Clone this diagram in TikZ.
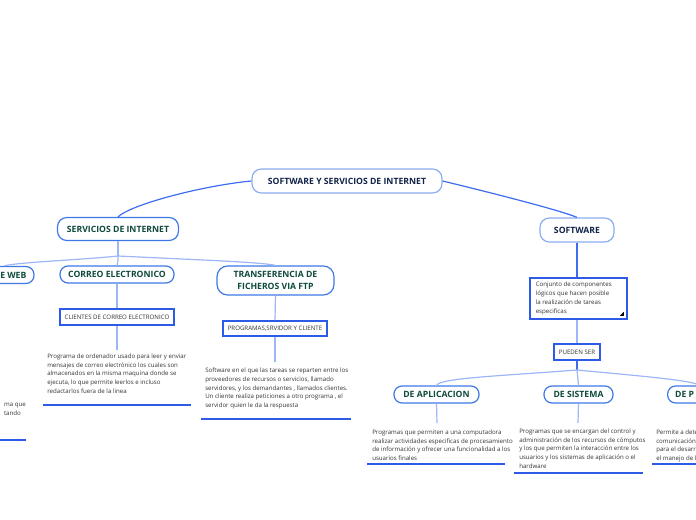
\documentclass[tikz,border=0pt]{standalone}
\usepackage{fontspec}
\setmainfont{Open Sans}
\begin{document}
\begin{tikzpicture}[x=0.75pt,y=-0.75pt,
  conn/.style={draw=linkblue,line width=0.9pt},
  lconn/.style={draw=lightlink,line width=0.9pt},
  topic/.style={draw=topicblue,line width=0.9pt,rounded corners=7pt,fill=white,inner sep=0pt,align=center,font=\bfseries\fontsize{6.5}{9}\selectfont,text=darkgreen},
  sbox/.style={draw=boxblue,line width=1.4pt,fill=white,inner sep=0pt,align=left,font=\fontsize{4.6}{6.5}\selectfont,text=textgray},
  desc/.style={anchor=north west,align=left,inner sep=0pt,font=\fontsize{4.6}{6.4}\selectfont,text=textgray},
  uline/.style={draw=boxblue,line width=1.1pt}]
\definecolor{linkblue}{HTML}{3D6CF0}
\definecolor{lightlink}{HTML}{9DB6F7}
\definecolor{topicblue}{HTML}{3E78E6}
\definecolor{boxblue}{HTML}{2E5AE8}
\definecolor{darkgreen}{HTML}{0F4A3C}
\definecolor{navy}{HTML}{12234A}
\definecolor{textgray}{HTML}{333333}
\useasboundingbox (0,0) rectangle (696,520);
% topics
\node[topic,minimum width=142.5pt,minimum height=18pt,text=navy,draw=topicblue!60] (root) at (347,181) {SOFTWARE Y SERVICIOS DE INTERNET};
\node[topic,minimum width=90.75pt,minimum height=17.25pt] (serv) at (118,229) {SERVICIOS DE INTERNET};
\node[topic,minimum width=55.5pt,minimum height=18pt,text=navy,draw=topicblue!60] (soft) at (577,230) {SOFTWARE};
\node[topic,minimum width=45pt,minimum height=12.75pt,rounded corners=6pt] (web) at (4,275) {\hspace*{14pt}E WEB};
\node[topic,minimum width=85.5pt,minimum height=12.75pt,rounded corners=6pt] (correo) at (117,274.5) {CORREO ELECTRONICO};
\node[topic,minimum width=87.75pt,minimum height=21.75pt,rounded corners=8pt] (ftp) at (275.5,280.5) {TRANSFERENCIA DE\\FICHEROS VIA FTP};
\node[topic,minimum width=63.75pt,minimum height=12.75pt,rounded corners=6pt] (apl) at (436.5,394.5) {DE APLICACION};
\node[topic,minimum width=51.75pt,minimum height=12.75pt,rounded corners=6pt] (sis) at (578.5,394.5) {DE SISTEMA};
\node[topic,minimum width=49.5pt,minimum height=12.75pt,rounded corners=6pt,anchor=west] (prog) at (667,394.5) {\hspace*{2pt}DE P\hspace*{26pt}};
% connectors
\draw[conn] (root.west) .. controls (200,186) and (130,205) .. (serv.north);
\draw[conn] (root.east) .. controls (480,190) and (560,210) .. (soft.north);
\coordinate (sj) at (118,256);
\draw[lconn] (serv.south) -- (sj);
\draw[lconn] (sj) .. controls (80,260) and (20,262) .. (web.north);
\draw[lconn] (sj) .. controls (118,262) .. (correo.north);
\draw[lconn] (sj) .. controls (200,260) and (260,262) .. (ftp.north);
% boxes
\node[sbox,minimum width=85.5pt,minimum height=12pt,align=center] (cli) at (117,317) {CLIENTES DE CORREO ELECTRONICO};
\node[sbox,minimum width=78pt,minimum height=11.25pt,align=center] (psc) at (275,328.5) {PROGRAMAS,SRVIDOR Y CLIENTE};
\coordinate (c1) at (117,350);
\coordinate (c2) at (275,362);
\draw[lconn] (correo.south) -- (cli.north);
\draw[lconn] (cli.south) -- (c1);
\draw[lconn] (ftp.south) -- (psc.north);
\draw[lconn] (psc.south) -- (c2);
\node[sbox,minimum width=72.75pt,minimum height=30.75pt,anchor=north west] (cdesc) at (529,277) {\hspace*{4pt}\parbox{64pt}{\fontsize{4.6}{6.8}\selectfont Conjunto de componentes\\lógicos que hacen posible\\la realización de tareas\\especificas}\hspace*{4pt}};
\fill[black] ([shift={(-4,-4)}]cdesc.south east) -- ++(-4,0) -- ++(4,-4) -- cycle;
\draw[conn] (soft.south) -- (cdesc.north -| soft.south);
\node[sbox,minimum width=34.5pt,minimum height=12pt,align=center] (pu) at (577,352) {PUEDEN SER};
\draw[lconn] (cdesc.south -| pu.north) -- (pu.north);
\coordinate (pj) at (577,370);
\draw[conn] (pu.south) -- (pj);
\draw[lconn] (pj) .. controls (500,376) and (440,378) .. (apl.north);
\draw[lconn] (pj) .. controls (578,378) .. (sis.north);
\draw[lconn] (pj) .. controls (640,376) and (690,380) .. (prog.north);
\coordinate (a1) at (437,423);
\coordinate (s1) at (578,423);
\draw[lconn] (apl.south) -- (a1);
\draw[lconn] (sis.south) -- (s1);
% descriptions
\node[desc] (t1) at (47,354) {Programa de ordenador usado para leer y enviar\\mensajes de correo electrónico los cuales son\\almacenados en la misma maquina donde se\\ejecuta, lo que permite leerlos e incluso\\redactarlos fuera de la linea};
\coordinate (u1a) at (43,405); \coordinate (u1b) at (191,405);
\draw[uline] (u1a) -- (u1b);
\node[desc] (t2) at (205,368) {Software en el que las tareas se reparten entre los\\proveedores de recursos o servicios, llamado\\servidores, y los demandantes , llamados clientes.\\Un cliente realiza peticiones a otro programa , el\\servidor quien le da la respuesta};
\coordinate (u2a) at (201,419); \coordinate (u2b) at (351,419);
\draw[uline] (u2a) -- (u2b);
\node[desc,anchor=north east,align=left] (t0) at (26,403) {ma que\\tando};
\coordinate (u0a) at (0,440); \coordinate (u0b) at (26,440);
\draw[uline] (u0a) -- (u0b);
\node[desc] (t3) at (372,430) {Programas que permiten a una computadora\\realizar actividades especificas de procesamiento\\de información y ofrecer una funcionalidad a los\\usuarios finales};
\coordinate (u3a) at (367,464); \coordinate (u3b) at (505,464);
\draw[uline] (u3a) -- (u3b);
\node[desc] (t4) at (519,429) {Programas que se encargan del control y\\administración de los recursos de cómputos\\y los que permiten la interacción entre los\\usuarios y los sistemas de aplicación o el\\hardware};
\coordinate (u4a) at (514,473); \coordinate (u4b) at (643,473);
\draw[uline] (u4a) -- (u4b);
\node[desc] (t5) at (656,430) {Permite a detectar\\comunicación c\\para el desarro\\el manejo de la};
\coordinate (u5a) at (652,464); \coordinate (u5b) at (696,464);
\draw[uline] (u5a) -- (u5b);
\end{tikzpicture}
\end{document}
